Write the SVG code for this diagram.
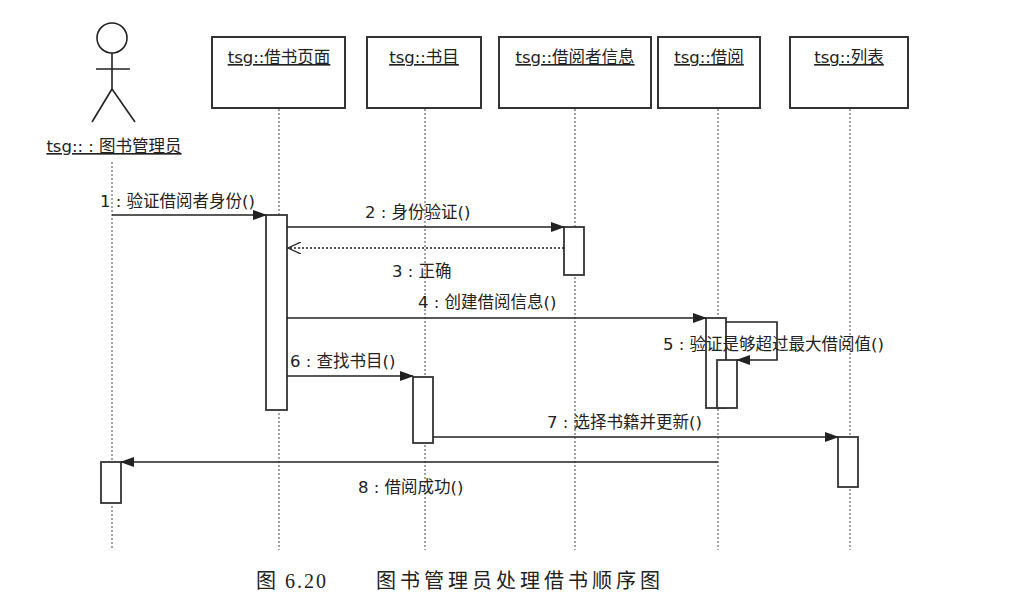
<svg xmlns="http://www.w3.org/2000/svg" width="1034" height="605" viewBox="0 0 1034 605">
<defs>
<marker id="fa" markerWidth="14" markerHeight="10" refX="13" refY="5" orient="auto" markerUnits="userSpaceOnUse"><path d="M0,0 L14,5 L0,10 Z" fill="#222"/></marker>
<marker id="oa" markerWidth="14" markerHeight="12" refX="13" refY="6" orient="auto" markerUnits="userSpaceOnUse"><path d="M0,0 L13,6 L0,12" fill="none" stroke="#222" stroke-width="1.3"/></marker>
</defs>
<style>
.box{fill:#fff;stroke:#333;stroke-width:2}
.act{fill:#fff;stroke:#333;stroke-width:1.8}
.life{stroke:#666;stroke-width:1.2;stroke-dasharray:2,2}
.msg{stroke:#222;stroke-width:1.6;fill:none}
.t{font-family:"DejaVu Sans","Noto Sans CJK SC",sans-serif;font-size:16.5px;fill:#222}
.h{font-family:"DejaVu Sans","Noto Sans CJK SC",sans-serif;font-size:16.5px;fill:#222;text-decoration:underline;text-anchor:middle}
.cap{font-family:"Liberation Serif","Noto Sans CJK SC",serif;font-size:20px;fill:#222}
</style>
<rect width="1034" height="605" fill="#fff"/>
<g id="lifelines">
<line class="life" x1="112" y1="162" x2="112" y2="550"/>
<line class="life" x1="279" y1="109" x2="279" y2="550"/>
<line class="life" x1="425" y1="109" x2="425" y2="550"/>
<line class="life" x1="575" y1="109" x2="575" y2="550"/>
<line class="life" x1="718" y1="109" x2="718" y2="550"/>
<line class="life" x1="850" y1="109" x2="850" y2="550"/>
</g>
<g id="actor" fill="none" stroke="#222" stroke-width="1.6">
<circle cx="112" cy="38" r="15"/>
<line x1="112" y1="53" x2="112" y2="89"/>
<line x1="96" y1="69" x2="130" y2="69"/>
<line x1="112" y1="89" x2="92" y2="122"/>
<line x1="112" y1="89" x2="135" y2="122"/>
<text class="h" x="114" y="152" stroke="none">tsg:: : 图书管理员</text>
</g>
<g id="n1"><rect class="box" x="212" y="37" width="133" height="71"/><text class="h" x="279" y="63">tsg::借书页面</text></g>
<g id="n2"><rect class="box" x="367" y="37" width="114" height="71"/><text class="h" x="424" y="63">tsg::书目</text></g>
<g id="n3"><rect class="box" x="499" y="37" width="152" height="71"/><text class="h" x="575" y="63">tsg::借阅者信息</text></g>
<g id="n4"><rect class="box" x="658" y="37" width="102" height="71"/><text class="h" x="709" y="63">tsg::借阅</text></g>
<g id="n5"><rect class="box" x="790" y="37" width="118" height="71"/><text class="h" x="849" y="63">tsg::列表</text></g>
<g id="activations">
<rect class="act" x="266" y="215" width="21" height="195"/>
<rect class="act" x="564" y="227" width="20" height="48"/>
<rect class="act" x="706" y="318" width="20" height="90"/>
<rect class="act" x="717" y="360" width="20" height="48"/>
<rect class="act" x="413" y="377" width="20" height="66"/>
<rect class="act" x="838" y="437" width="20" height="50"/>
<rect class="act" x="101" y="462" width="20" height="41"/>
</g>
<g id="connectors">
<line class="msg" x1="112" y1="215" x2="266" y2="215" marker-end="url(#fa)"/>
<line class="msg" x1="287" y1="227" x2="564" y2="227" marker-end="url(#fa)"/>
<line class="msg" x1="564" y1="248" x2="288" y2="248" stroke-dasharray="2,2" marker-end="url(#oa)"/>
<line class="msg" x1="287" y1="318" x2="706" y2="318" marker-end="url(#fa)"/>
<polyline class="msg" points="726,322 777,322 777,360 737,360" marker-end="url(#fa)"/>
<line class="msg" x1="287" y1="376" x2="413" y2="376" marker-end="url(#fa)"/>
<line class="msg" x1="433" y1="437" x2="838" y2="437" marker-end="url(#fa)"/>
<line class="msg" x1="718" y1="462" x2="121" y2="462" marker-end="url(#fa)"/>
</g>
<g id="labels">
<text class="t" x="100" y="207">1 : 验证借阅者身份()</text>
<text class="t" x="365" y="218">2 : 身份验证()</text>
<text class="t" x="392" y="277">3 : 正确</text>
<text class="t" x="418" y="308">4 : 创建借阅信息()</text>
<text class="t" x="663" y="350">5 : 验证是够超过最大借阅值()</text>
<text class="t" x="290" y="367">6 : 查找书目()</text>
<text class="t" x="547" y="428">7 : 选择书籍并更新()</text>
<text class="t" x="358" y="493">8 : 借阅成功()</text>
</g>
<text class="cap" x="256" y="588" letter-spacing="2">图 6.20</text>
<text class="cap" x="376" y="588" letter-spacing="4">图书管理员处理借书顺序图</text>
</svg>
